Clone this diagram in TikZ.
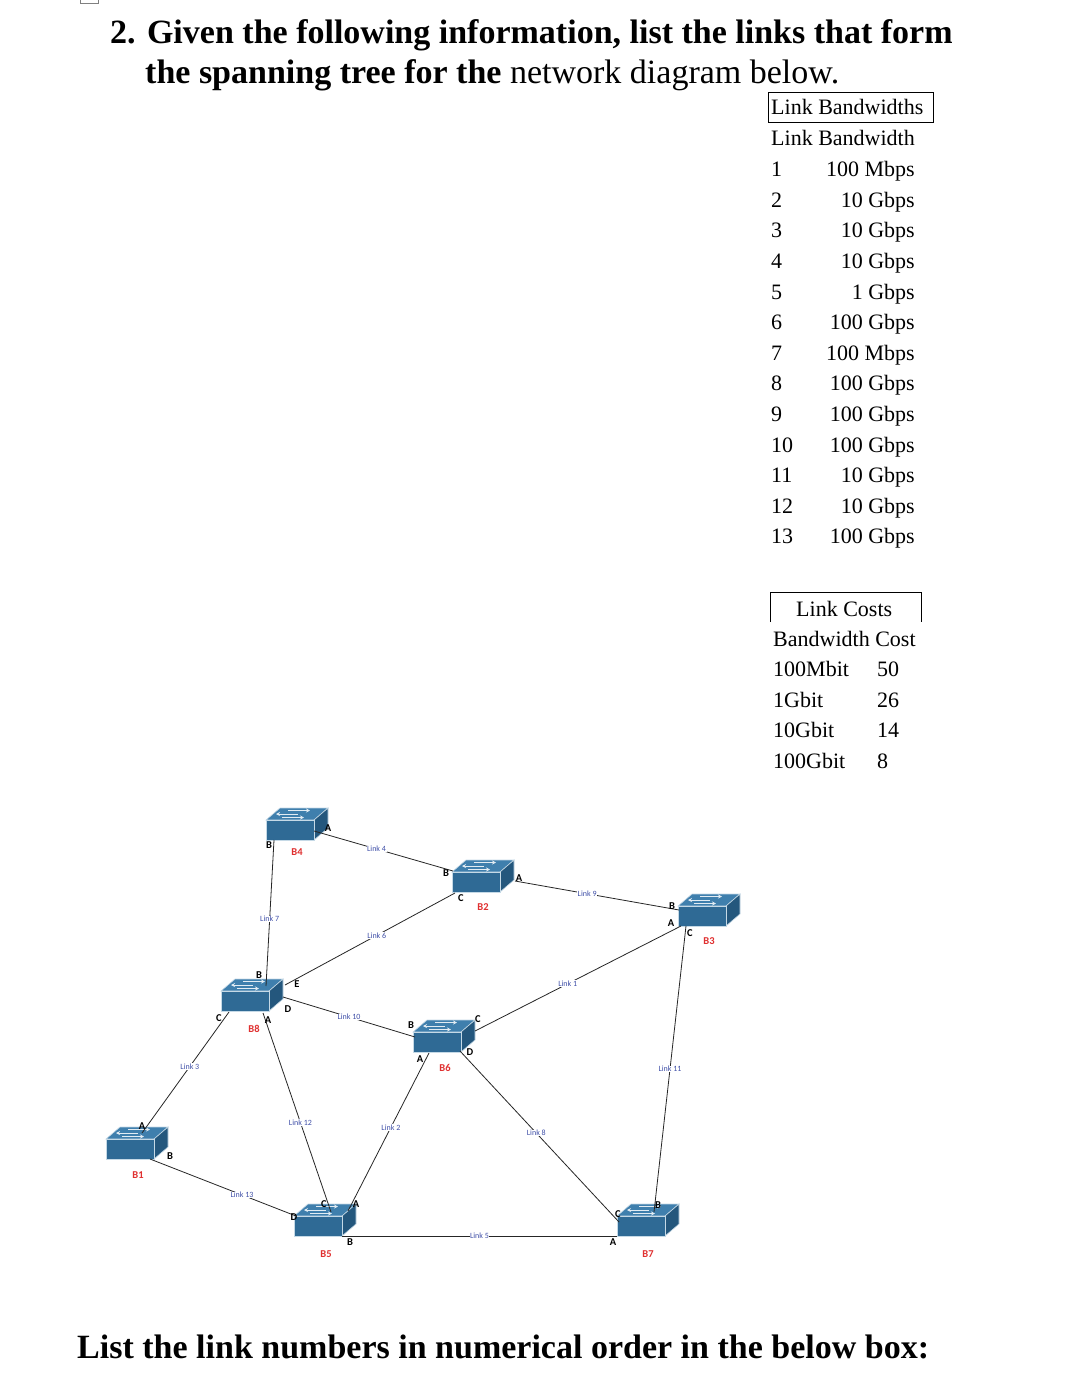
\documentclass[tikz,border=0pt]{standalone}
\usepackage{fontspec}
\setmainfont{Liberation Serif}
\newfontfamily\lbl{Carlito}
\usetikzlibrary{arrows.meta}
\definecolor{swfront}{HTML}{2F6A95}
\definecolor{swtop}{HTML}{3F7FAD}
\definecolor{swside}{HTML}{24577D}
\definecolor{linkblue}{HTML}{3F4FA8}
\definecolor{brred}{HTML}{E03030}
\tikzset{
  sw/.pic={
    \fill[swtop,draw=white!70!swtop,line width=0.6pt] (-24,-10) -- (24,-10) -- (38,-22) -- (-10,-22) -- cycle;
    \fill[swside,draw=white!70!swtop,line width=0.6pt] (24,-10) -- (38,-22) -- (38,-2) -- (24,10) -- cycle;
    \fill[swfront,draw=white!70!swtop,line width=0.6pt] (-24,-10) rectangle (24,10);
    \draw[white!85!swtop,line width=1pt,-{Stealth[length=4pt,width=4pt]}] (-2,-19.5) -- (20,-19.5);
    \draw[white!85!swtop,line width=1pt,-{Stealth[length=4pt,width=4pt]}] (8,-16) -- (-14,-16);
    \draw[white!85!swtop,line width=1pt,-{Stealth[length=4pt,width=4pt]}] (-8,-12.5) -- (14,-12.5);
  },
  lnk/.style={draw=black!85,line width=0.8pt},
  lt/.style={font=\lbl\fontsize{8}{9}\selectfont,text=linkblue,fill=white,inner sep=0.5pt},
  pt/.style={font=\lbl\bfseries\fontsize{10.5}{11}\selectfont,inner sep=0pt},
  bn/.style={font=\lbl\bfseries\fontsize{10.5}{11}\selectfont,text=brred,inner sep=0pt},
  tx/.style={font=\fontsize{22}{24}\selectfont,inner sep=0pt,anchor=base west},
  hd/.style={font=\bfseries\fontsize{34}{38}\selectfont,inner sep=0pt,anchor=base west},
}
\begin{document}
\begin{tikzpicture}[x=1pt,y=-1pt]
\useasboundingbox[fill=white] (0,0) rectangle (1074,1378);
\draw[gray] (80,-2) rectangle (98,3);
% title
\node[hd] (t1) at (110,44) {2. Given the following information, list the links that form};
\node[hd] (t2) at (145,84) {the spanning tree for the {\mdseries network diagram below.}};
\node[hd] (t3) at (77,1358) {List the link numbers in numerical order in the below box:};
% bandwidth table
\draw[line width=0.8pt] (768,92) rectangle (933,122);
\node[tx] (bh) at (771,115) {Link Bandwidths};
\node[tx] (bh2) at (771,146) {Link Bandwidth};
\foreach \n/\v [count=\i] in {1/100 Mbps,2/10 Gbps,3/10 Gbps,4/10 Gbps,5/1 Gbps,6/100 Gbps,7/100 Mbps,8/100 Gbps,9/100 Gbps,10/100 Gbps,11/10 Gbps,12/10 Gbps,13/100 Gbps}{
  \node[tx] (bn\i) at (771,146+30.6*\i) {\n};
  \node[tx,anchor=base east] (bv\i) at (915,146+30.6*\i) {\v};
}
% cost table
\draw[line width=0.8pt] (770,622) -- (770,592) -- (921,592) -- (921,622);
\node[tx] (ch) at (796,616) {Link Costs};
\node[tx] (ch2) at (773,646) {Bandwidth Cost};
\foreach \a/\b [count=\i] in {100Mbit/50,1Gbit/26,10Gbit/14,100Gbit/8}{
  \node[tx] (ca\i) at (773,646+30.6*\i) {\a};
  \node[tx] (cb\i) at (877,646+30.6*\i) {\b};
}
% switches
\pic (B4) at (290,830) {sw};
\pic (B2) at (476,882) {sw};
\pic (B3) at (702,916) {sw};
\pic (B8) at (245,1001) {sw};
\pic (B6) at (437,1042) {sw};
\pic (B1) at (130,1149) {sw};
\pic (B5) at (318,1226) {sw};
\pic (B7) at (641,1226) {sw};
% port coordinates
\coordinate (b4a) at (314,831); \coordinate (b4b) at (274,840);
\coordinate (b2b) at (453,871); \coordinate (b2c) at (455,893); \coordinate (b2a) at (515,881);
\coordinate (b3b) at (679,910); \coordinate (b3a) at (681,926); \coordinate (b3c) at (686,926);
\coordinate (b8b) at (266,986); \coordinate (b8e) at (285,985); \coordinate (b8d) at (283,997);
\coordinate (b8c) at (229,1012); \coordinate (b8a) at (263,1013);
\coordinate (b6b) at (415,1037); \coordinate (b6c) at (475,1031); \coordinate (b6a) at (429,1053); \coordinate (b6d) at (460,1051);
\coordinate (b1a) at (142,1133); \coordinate (b1b) at (150,1159);
\coordinate (b5c) at (331,1212); \coordinate (b5a) at (348,1211); \coordinate (b5d) at (296,1216); \coordinate (b5b) at (342,1236);
\coordinate (b7c) at (619,1222); \coordinate (b7b) at (654,1212); \coordinate (b7a) at (617,1236);
% links
\path[lnk] (b4a) -- node[lt,pos=0.45] (l4) {Link 4} (b2b);
\path[lnk] (b4b) -- node[lt,pos=0.54] (l7) {Link 7} (b8b);
\path[lnk] (b2c) -- node[lt,pos=0.46] (l6) {Link 6} (b8e);
\path[lnk] (b2a) -- node[lt,pos=0.44] (l9) {Link 9} (b3b);
\path[lnk] (b6c) -- node[lt,pos=0.45] (l1) {Link 1} (b3a);
\path[lnk] (b8d) -- node[lt,pos=0.5] (l10) {Link 10} (b6b);
\path[lnk] (b3c) -- node[lt,pos=0.5] (l11) {Link 11} (b7b);
\path[lnk] (b8c) -- node[lt,pos=0.45] (l3) {Link 3} (b1a);
\path[lnk] (b8a) -- node[lt,pos=0.55] (l12) {Link 12} (b5c);
\path[lnk] (b6a) -- node[lt,pos=0.47] (l2) {Link 2} (b5a);
\path[lnk] (b6d) -- node[lt,pos=0.48] (l8) {Link 8} (b7c);
\path[lnk] (b1b) -- node[lt,pos=0.63] (l13) {Link 13} (b5d);
\path[lnk] (b5b) -- node[lt,pos=0.5] (l5) {Link 5} (b7a);
% port letters
\node[pt] (pb4a) at (328,828) {A}; \node[pt] (pb4b) at (269,845) {B};
\node[pt] (pb2b) at (446,873) {B}; \node[pt] (pb2c) at (461,898) {C}; \node[pt] (pb2a) at (519,878) {A};
\node[pt] (pb3b) at (672,906) {B}; \node[pt] (pb3a) at (671,923) {A}; \node[pt] (pb3c) at (690,933) {C};
\node[pt] (pb8b) at (259,975) {B}; \node[pt] (pb8e) at (297,984) {E}; \node[pt] (pb8d) at (288,1009) {D};
\node[pt] (pb8c) at (219,1018) {C}; \node[pt] (pb8a) at (268,1020) {A};
\node[pt] (pb6b) at (411,1025) {B}; \node[pt] (pb6c) at (478,1019) {C}; \node[pt] (pb6a) at (420,1059) {A}; \node[pt] (pb6d) at (470,1052) {D};
\node[pt] (pb1a) at (142,1126) {A}; \node[pt] (pb1b) at (170,1156) {B};
\node[pt] (pb5c) at (324,1204) {C}; \node[pt] (pb5a) at (356,1204) {A}; \node[pt] (pb5d) at (294,1217) {D}; \node[pt] (pb5b) at (350,1242) {B};
\node[pt] (pb7c) at (618,1214) {C}; \node[pt] (pb7b) at (658,1205) {B}; \node[pt] (pb7a) at (613,1242) {A};
% bridge names
\node[bn] (nB4) at (297,852) {B4}; \node[bn] (nB2) at (483,907) {B2}; \node[bn] (nB3) at (709,941) {B3};
\node[bn] (nB8) at (254,1029) {B8}; \node[bn] (nB6) at (445,1068) {B6}; \node[bn] (nB1) at (138,1175) {B1};
\node[bn] (nB5) at (326,1254) {B5}; \node[bn] (nB7) at (648,1254) {B7};
\end{tikzpicture}
\end{document}
